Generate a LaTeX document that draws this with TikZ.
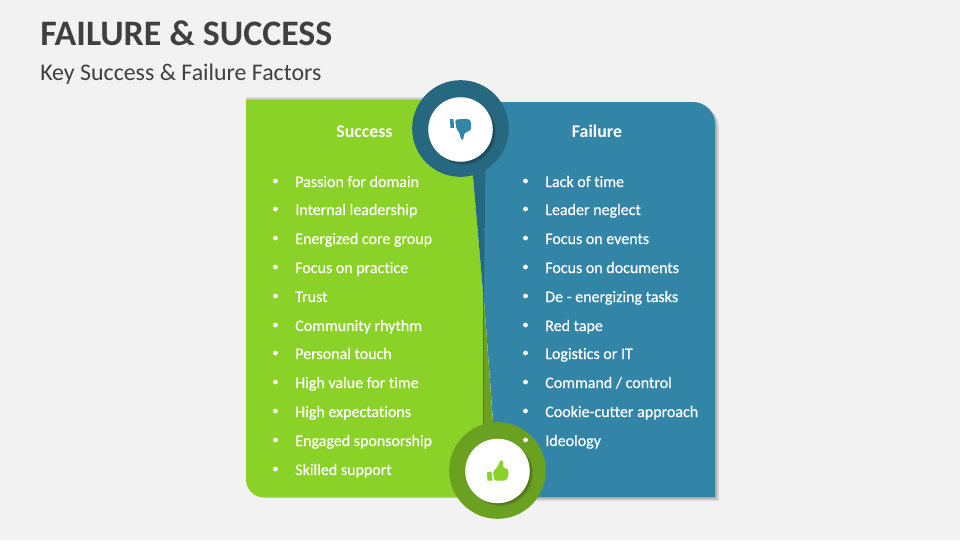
\documentclass[tikz,border=0pt]{standalone}
\usepackage{fontspec}
\setmainfont{Carlito}[Ligatures=NoCommon]
\newfontfamily\itemfont{Carlito}[Ligatures=NoCommon,FakeBold=0.45]
\definecolor{pagebg}{HTML}{F2F2F2}
\definecolor{leaf}{HTML}{8AD128}
\definecolor{leafdark}{HTML}{6BA121}
\definecolor{sea}{HTML}{3385A8}
\definecolor{seadark}{HTML}{266880}
\definecolor{ink}{HTML}{404040}
\tikzset{
  x=0.75pt,y=-0.75pt,
  heading/.style={anchor=base,text=white,font=\bfseries\fontsize{13.4}{15}\selectfont,inner sep=0pt},
  item/.style={anchor=base west,text=white,font=\itemfont\fontsize{12}{14}\selectfont,inner sep=0pt},
  dot/.style={circle,fill=white,minimum size=3.6pt,inner sep=0pt},
  ringouter/.style={circle,minimum size=72.5pt,inner sep=0pt},
  ringinner/.style={circle,fill=white,minimum size=48.4pt,inner sep=0pt},
  softshadow/.style={fill=black,fill opacity=0.08,draw=none},
}
\begin{document}
\begin{tikzpicture}
\useasboundingbox (0,0) rectangle (960,540);
\fill[pagebg] (0,0) rectangle (960,540);
% titles
\node[anchor=base west,inner sep=0pt,text=ink,font=\bfseries\fontsize{26.9}{30}\selectfont] (title) at (40,45.5) {FAILURE \& SUCCESS};
\node[anchor=base west,inner sep=0pt,text=ink,font=\fontsize{17.9}{22}\selectfont] (subtitle) at (40,80.5) {Key Success \& Failure Factors};
% blue panel shadow
\foreach \d in {1,2,3,4}{
  \fill[softshadow] (500,102+\d) -- (693+\d,102+\d) arc[start angle=-90,end angle=0,radius=22] -- (715+\d,497+\d) -- (500,497+\d) -- cycle;
}
\fill[sea] (470,102) -- (693,102) arc[start angle=-90,end angle=0,radius=22] -- (715,497) -- (495,497) -- (493,420) -- (483.5,293) -- (485,170) -- cycle;
% green panel shadow
\foreach \d in {1,2,3}{
  \fill[softshadow] (246,100-\d) rectangle (440,102);
}
\fill[leaf] (246,100) -- (466.5,100) -- (473,176) -- (483,292) -- (483,497.5) -- (264,497.5) arc[start angle=90,end angle=180,radius=18] -- cycle;
% tails of the two circles
\fill[seadark] (472.5,150) -- (486,150) -- (485.4,170) -- (484,293) -- (483,292) -- (473,176) -- cycle;
\fill[leafdark] (483,292) -- (483.5,293) -- (493.5,430) -- (483,430) -- cycle;
\fill[leafdark!75!black] (482.6,292) rectangle (484,425);
% circles
\node[ringouter,fill=seadark] (downring) at (460.5,128.5) {};
\foreach \d in {1,2,3}{
  \fill[black,fill opacity=0.1] (461+\d,130+\d) circle[radius=32];
}
\node[ringinner] (downdisc) at (460.5,129.5) {};
\node[ringouter,fill=leafdark] (upring) at (497.5,470.5) {};
\foreach \d in {1,2,3}{
  \fill[black,fill opacity=0.1] (498+\d,471+\d) circle[radius=32];
}
\node[ringinner] (updisc) at (497.5,471) {};
% thumb down
\fill[sea] (450,119) -- (453.4,119) -- (454.2,127.8) -- (450.4,127.8) -- cycle;
\fill[sea,rounded corners=1.2pt] (455,119.5) -- (468,118.8) -- (471,121) -- (471,130.5) -- (466,132) -- (463.5,135) -- (463.6,140) -- (461,139.6) -- (459.5,133) -- (456.5,129) -- cycle;
% thumb up
\fill[leaf] (487,472.5) -- (491.5,471.5) -- (492.5,480.5) -- (487.5,480.5) -- cycle;
\fill[leaf,rounded corners=1.2pt] (493,471.5) -- (497,467.5) -- (499,464) -- (500,460) -- (503,460.5) -- (503.5,465) -- (502.5,468) -- (508,468.5) -- (508.5,476) -- (506,480.5) -- (494,480.5) -- cycle;
% headings
\node[heading] (successhead) at (364.5,137.5) {Success};
\node[heading] (failurehead) at (597,137.5) {Failure};
% success list
\foreach \n/\yy/\txt in {1/182/Passion for domain,2/210/Internal leadership,3/239/Energized core group,4/268/Focus on practice,5/297/Trust,6/326/Community rhythm,7/354/Personal touch,8/383/High value for time,9/412/High expectations,10/441/Engaged sponsorship,11/470/Skilled support}{
  \node[dot] (sdot\n) at (275.5,\yy-1) {};
  \node[item] (sitem\n) at (295,\yy+5) {\txt};
}
% failure list
\foreach \n/\yy/\txt in {1/182/Lack of time,2/210/Leader neglect,3/239/Focus on events,4/268/Focus on documents,5/297/De - energizing tasks,6/326/Red tape,7/354/Logistics or IT,8/383/{Command / control},9/412/Cookie-cutter approach,10/441/Ideology}{
  \node[dot] (fdot\n) at (525.5,\yy-1) {};
  \node[item] (fitem\n) at (545,\yy+5) {\txt};
}
\end{tikzpicture}
\end{document}
